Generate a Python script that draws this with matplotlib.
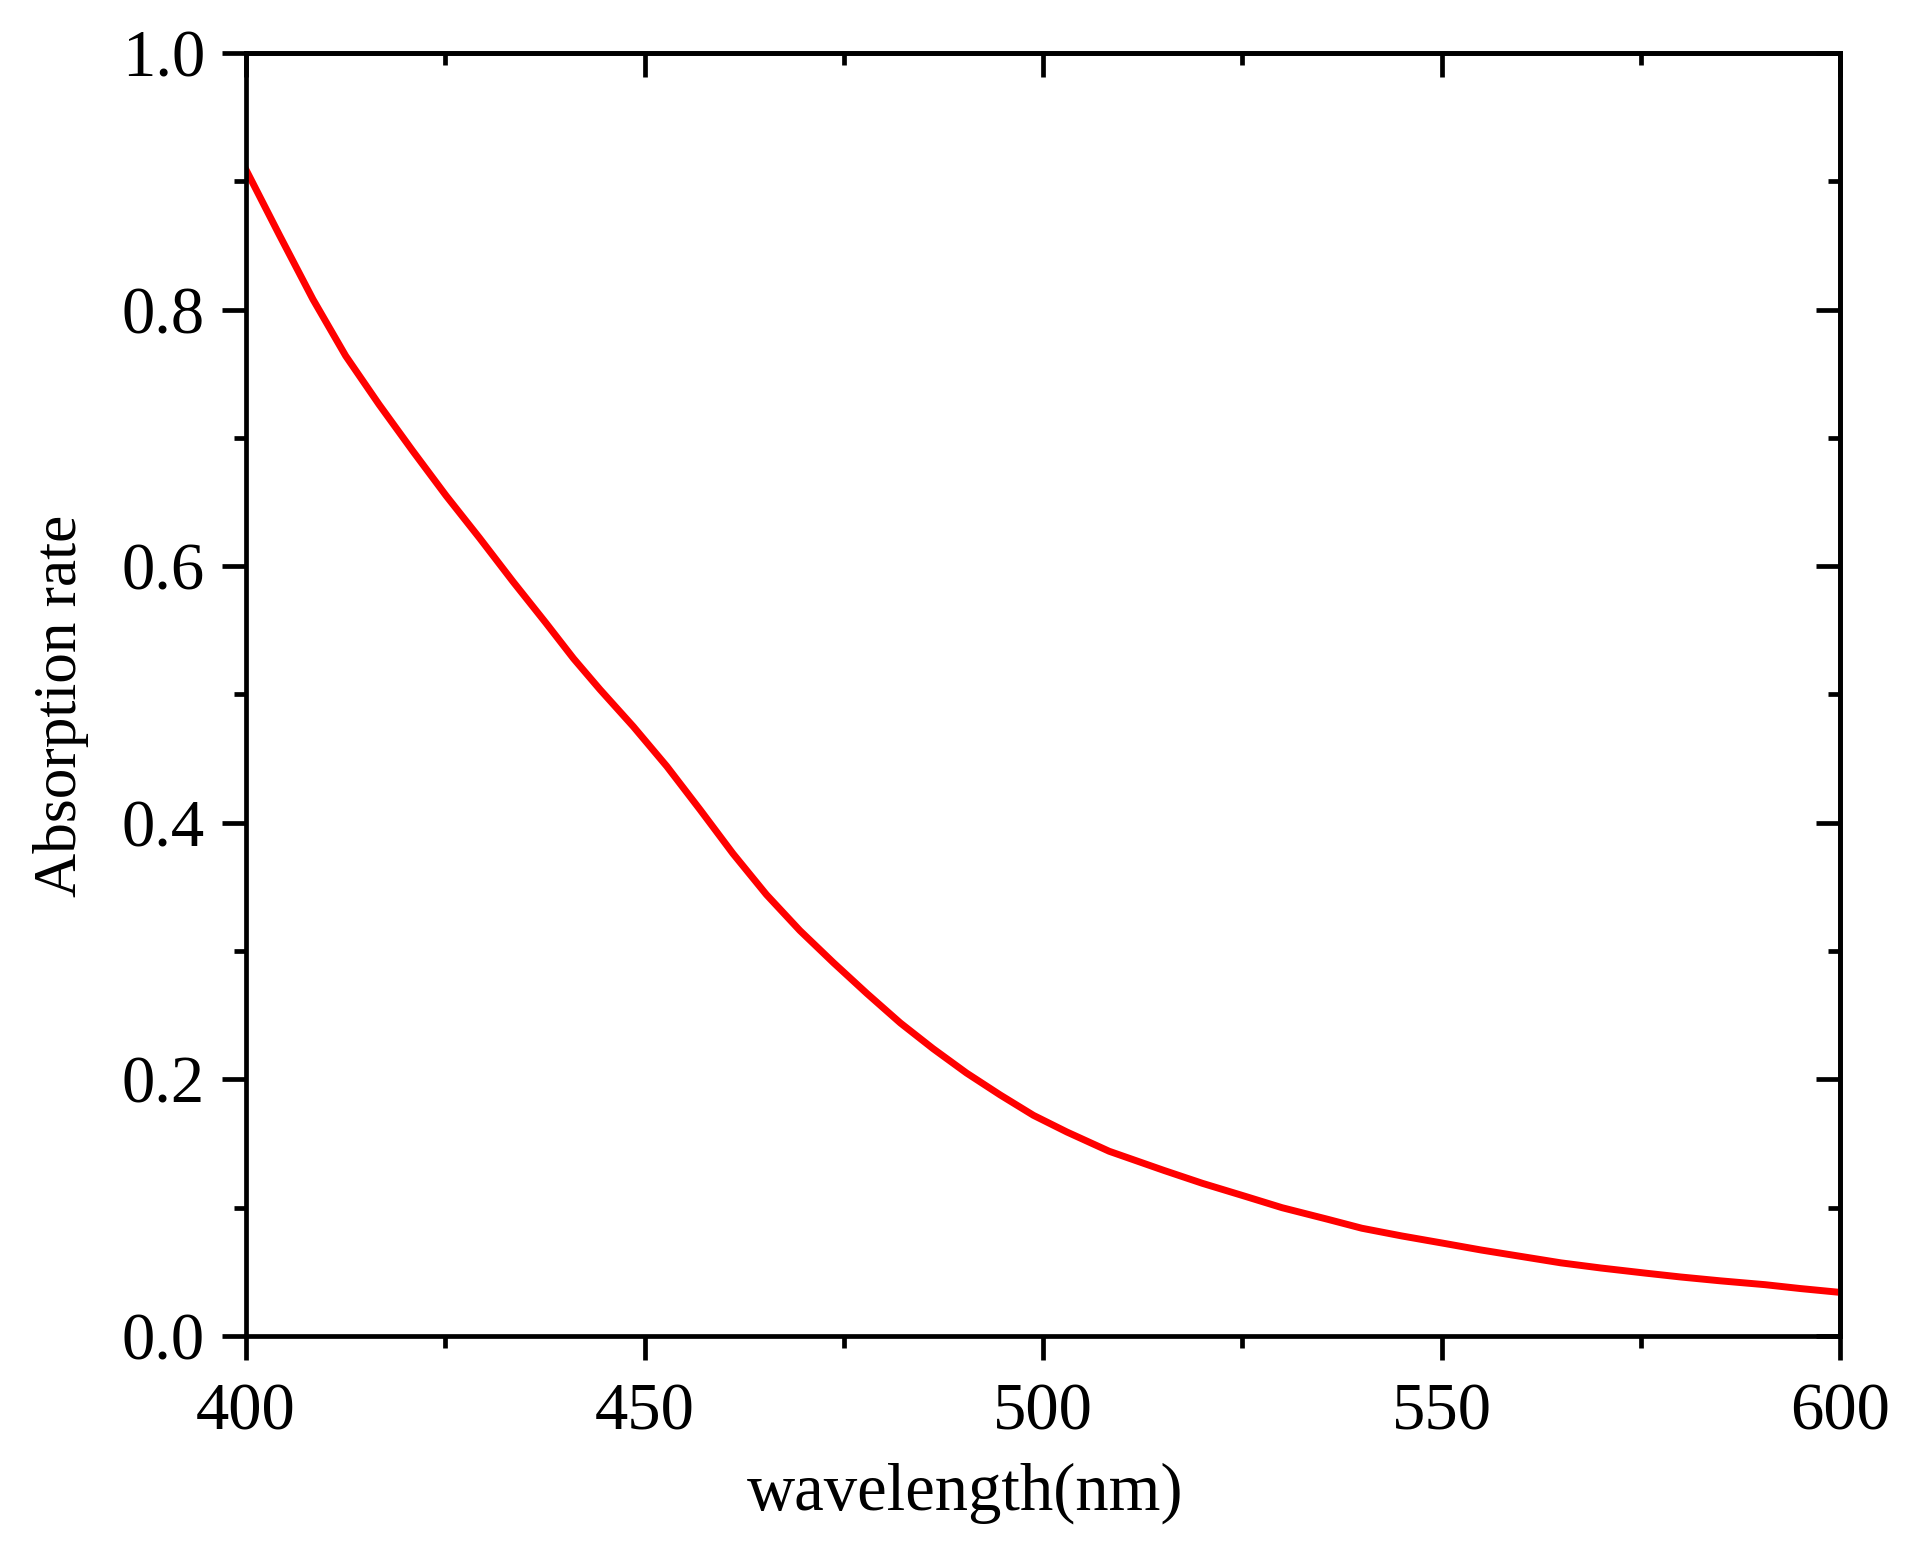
import matplotlib
matplotlib.use("Agg")
import matplotlib.pyplot as plt
from matplotlib.ticker import MultipleLocator, FormatStrFormatter

wavelength = [400.0, 404.2, 408.4, 412.5, 416.7, 420.9, 425.1, 429.3, 433.5, 437.6,
              441.1, 444.4, 448.6, 452.8, 457.0, 461.1, 465.3, 469.5, 473.7, 477.9,
              482.1, 486.2, 490.4, 494.6, 498.8, 503.0, 508.3, 515.2, 520.0, 525.3,
              530.0, 535.7, 540.0, 545.0, 550.5, 555.0, 560.0, 565.0, 570.0, 575.6,
              580.0, 585.0, 590.6, 595.0, 600.0]
absorption = [0.909, 0.858, 0.808, 0.764, 0.726, 0.690, 0.655, 0.622, 0.588, 0.556,
              0.528, 0.504, 0.475, 0.444, 0.410, 0.376, 0.344, 0.316, 0.291, 0.267,
              0.244, 0.224, 0.205, 0.188, 0.172, 0.159, 0.144, 0.129, 0.119, 0.109,
              0.100, 0.091, 0.084, 0.078, 0.072, 0.067, 0.062, 0.057, 0.053, 0.049,
              0.046, 0.043, 0.040, 0.037, 0.034]
x_label = "wavelength(nm)"
y_label = "Absorption rate"

plt.rcParams['font.family'] = ['Liberation Serif', 'DejaVu Serif']

W, H = 1919, 1551
fig = plt.figure(figsize=(W / 100, H / 100), dpi=100)
ax = fig.add_axes([246 / W, 1 - 1336 / H, (1840 - 246) / W, (1336 - 53) / H])

ax.plot(wavelength, absorption, color='#ff0000', lw=5.0, solid_joinstyle='round')

ax.set_xlim(400, 600)
ax.set_ylim(0, 1.0)
ax.xaxis.set_major_locator(MultipleLocator(50))
ax.xaxis.set_minor_locator(MultipleLocator(25))
ax.yaxis.set_major_locator(MultipleLocator(0.2))
ax.yaxis.set_minor_locator(MultipleLocator(0.1))
ax.yaxis.set_major_formatter(FormatStrFormatter('%.1f'))

LW = 3.4
for s in ax.spines.values():
    s.set_linewidth(LW)

ax.tick_params(which='major', length=17.5, width=LW, labelsize=48)
ax.tick_params(which='minor', length=8.5, width=LW)
ax.tick_params(axis='x', which='both', direction='out', pad=16)
ax.tick_params(axis='y', which='both', direction='out', pad=12)

# mirrored inward ticks on top and right
axt = ax.secondary_xaxis('top')
axt.xaxis.set_major_locator(MultipleLocator(50))
axt.xaxis.set_minor_locator(MultipleLocator(25))
axt.tick_params(which='major', direction='in', length=17.5, width=LW, labeltop=False)
axt.tick_params(which='minor', direction='in', length=8.5, width=LW)
axt.spines['top'].set_linewidth(LW)

axr = ax.secondary_yaxis('right')
axr.yaxis.set_major_locator(MultipleLocator(0.2))
axr.yaxis.set_minor_locator(MultipleLocator(0.1))
axr.tick_params(which='major', direction='in', length=17.5, width=LW, labelright=False)
axr.tick_params(which='minor', direction='in', length=8.5, width=LW)
axr.spines['right'].set_linewidth(LW)

fig.text(965 / W, 1 - 1510 / H, x_label, ha='center', va='baseline', fontsize=48)
fig.text(61 / W, 1 - 706 / H, y_label, ha='center', va='center', rotation=90, fontsize=44)

fig.savefig('out.png', dpi=100, facecolor='white')
